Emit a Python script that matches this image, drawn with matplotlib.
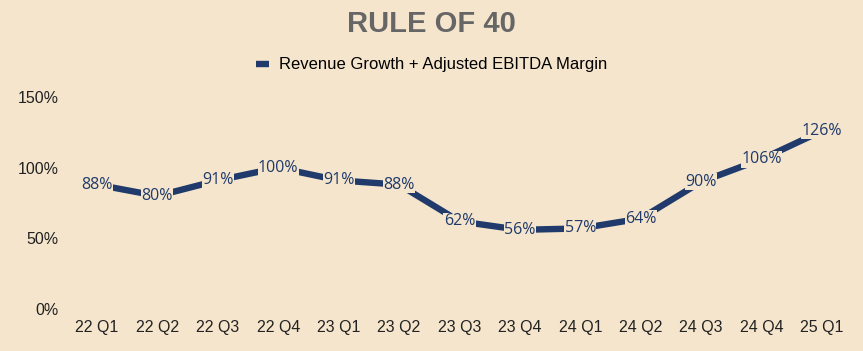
import matplotlib.pyplot as plt

quarters = ["22 Q1", "22 Q2", "22 Q3", "22 Q4", "23 Q1", "23 Q2", "23 Q3",
            "23 Q4", "24 Q1", "24 Q2", "24 Q3", "24 Q4", "25 Q1"]
rule40 = [88, 80, 91, 100, 91, 88, 62, 56, 57, 64, 90, 106, 126]
yticks = [0, 50, 100, 150]

bg = "#F5E5CC"
navy = "#1F3A6B"

fig = plt.figure(figsize=(8.63, 3.51), dpi=100, facecolor=bg)
ax = fig.add_axes([70 / 863, 1 - 309 / 351, 780 / 863, 212 / 351])
ax.set_facecolor(bg)

x = list(range(len(quarters)))
ax.plot(x, rule40, color=navy, lw=4.6, solid_capstyle="butt",
        label="Revenue Growth + Adjusted EBITDA Margin")

for xi, v in zip(x, rule40):
    ax.text(xi, v, f"{v}%", ha="center", va="center", color=navy,
            fontsize=11.5, family="Open Sans",
            bbox=dict(boxstyle="square,pad=0.02", fc=bg, ec="none"))

ax.set_xlim((70 - 97) / 60.42, 12 + (850 - 822) / 60.42)
ax.set_ylim(0, 150)
ax.set_xticks(x)
ax.set_xticklabels(quarters)
ax.set_yticks(yticks)
ax.set_yticklabels([f"{t}%" for t in yticks])
ax.tick_params(length=0, labelsize=11.5, colors="#222222", pad=8)
for lbl in ax.get_xticklabels() + ax.get_yticklabels():
    lbl.set_family("Liberation Sans")
for s in ax.spines.values():
    s.set_visible(False)

fig.text(0.5, 0.932, "RULE OF 40", ha="center", va="center", fontsize=21,
         fontweight="bold", color="#666666", family="Liberation Sans")
leg = fig.legend(loc="center", bbox_to_anchor=(0.5, 0.815), frameon=False,
                 prop={"family": "Liberation Sans", "size": 12},
                 handlelength=0.8, handletextpad=0.6)

fig.savefig("out.png", facecolor=bg)
